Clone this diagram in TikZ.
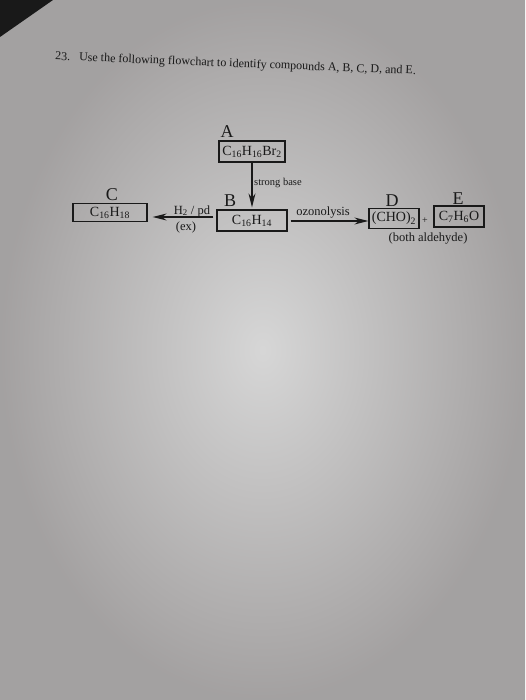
\documentclass[tikz,border=0pt]{standalone}
\usepackage{fontspec}
\setmainfont{Liberation Serif}
\usetikzlibrary{arrows.meta,positioning}
\definecolor{ink}{rgb}{0.10,0.10,0.10}
\definecolor{paperLight}{rgb}{0.84,0.84,0.84}
\definecolor{paperDark}{rgb}{0.64,0.63,0.63}

\begin{document}
\begin{tikzpicture}[x=1pt,y=-1pt,
    box/.style={draw=ink,line width=1.2pt,inner sep=0pt,text=ink,font=\fontsize{14}{15}\selectfont},
    letter/.style={inner sep=0pt,anchor=base,text=ink,font=\fontsize{18}{18}\selectfont},
    cond/.style={inner sep=1pt,text=ink,font=\fontsize{12.5}{13}\selectfont},
    arr/.style={draw=ink,line width=1.2pt,-{Stealth[length=14pt,width=7pt]}}]

      % draw the page
      \useasboundingbox (0,0) rectangle (525,700);
      \shade[inner color=paperLight,outer color=paperDark] (0,0) rectangle (525,700);
      \fill[black!90] (0,0) -- (53,0) -- (0,37) -- cycle;

      % the question
      \node[anchor=west,rotate=-2.3,text=ink,inner sep=0pt,font=\fontsize{12}{13}\selectfont]
        (title) at (55,57) {23.\hspace{9pt}Use the following flowchart to identify compounds A, B, C, D, and E.};

      % draw the compounds
      \node[box,minimum width=66,minimum height=21] (A) at (252,151.5) {C\textsubscript{16}H\textsubscript{16}Br\textsubscript{2}};
      \node[box,minimum width=70,minimum height=21] (B) at (252,220.5) {C\textsubscript{16}H\textsubscript{14}};
      \node[box,minimum width=74,minimum height=18] (C) at (110,212.5) {C\textsubscript{16}H\textsubscript{18}};
      \node[box,minimum width=50,minimum height=20] (D) at (394,218.5) {(CHO)\textsubscript{2}};
      \node[box,minimum width=50,minimum height=21] (E) at (459,216.5) {C\textsubscript{7}H\textsubscript{6}O};

      % the letters over the boxes (at their base line)
      \foreach \n/\x/\y in {A/227/138, B/230/207, C/112/201, D/392/206.5, E/458/204.5}
        \node[letter] (lbl\n) at (\x,\y) {\n};

      % draw the reactions
      \draw[arr,shorten >=2pt] (A.south) -- (B.north);
      \node[cond,anchor=west,font=\fontsize{10.5}{11}\selectfont] (base) at (253,183) {strong base};

      \draw[arr,shorten <=3pt,shorten >=5pt] ([yshift=3.5pt]B.west) -- ([yshift=3.5pt]B.west -| C.east);
      \node[cond] (hyd) at (192,211) {H\textsubscript{2} / pd};
      \node[cond] (ex) at (186,227) {(ex)};

      \draw[arr,shorten <=3pt] ([yshift=-0.5pt]B.east) -- ([yshift=-0.5pt]B.east -| D.west);
      \node[cond] (ozo) at (323,213) {ozonolysis};

      \node[text=ink,font=\fontsize{10}{10}\selectfont] (plus) at (425,221) {+};
      \node[cond] (both) at (428,239) {(both aldehyde)};

\end{tikzpicture}
\end{document}
